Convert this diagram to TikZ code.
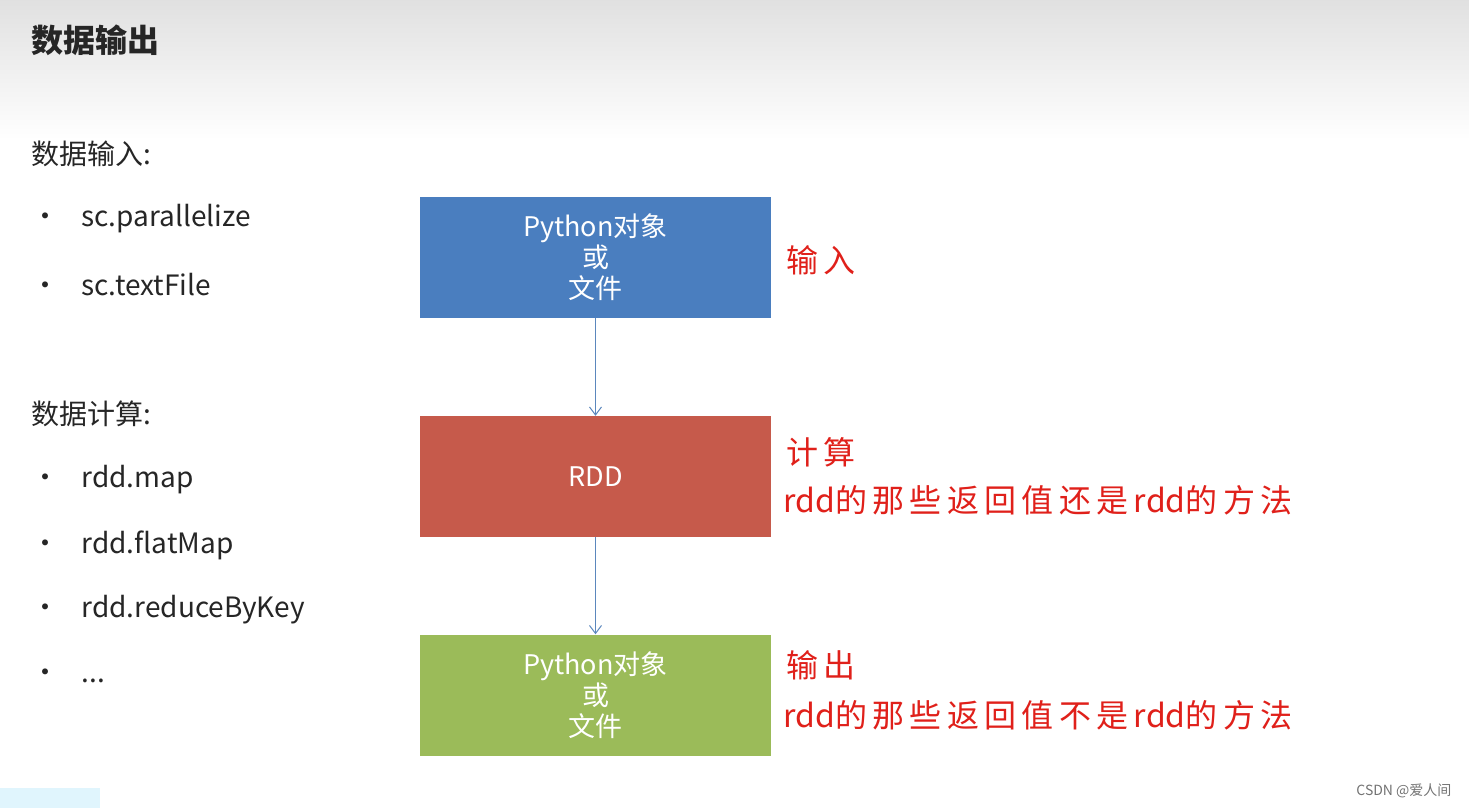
\documentclass[tikz,border=0pt]{standalone}
\usepackage{fontspec}
\setmainfont{Noto Sans CJK SC}
\usetikzlibrary{arrows.meta}
\definecolor{bbox}{HTML}{4A7EBF}
\definecolor{rbox}{HTML}{C65A4B}
\definecolor{gbox}{HTML}{9BBB59}
\definecolor{lbl}{HTML}{E0201A}
\definecolor{arr}{HTML}{5B87BD}
\begin{document}
\begin{tikzpicture}[x=1pt,y=-1pt,
  box/.style={minimum width=351pt,minimum height=121pt,inner sep=0pt,text=white,font=\fontsize{27}{31}\selectfont,align=center},
  body/.style={anchor=west,font=\fontsize{28}{32}\selectfont,text=black!85},
  red/.style={anchor=west,font=\fontsize{32}{36}\selectfont,text=lbl},
  con/.style={draw=arr,line width=1pt,-{Straight Barb[length=8pt,width=12pt]}}]
\useasboundingbox (0,0) rectangle (1469,808);
\fill[white] (0,0) rectangle (1469,808);
\shade[top color=black!12,bottom color=white] (0,0) rectangle (1469,140);
\fill[cyan!12] (0,788) rectangle (100,808);
\node[anchor=west,font=\bfseries\fontsize{32}{36}\selectfont,text=black!85] (title) at (28,40) {数据输出};
\node[body] (in) at (28,154) {数据输入:};
\node[body] (i1) at (28,219) {•\hspace{22pt}sc.parallelize};
\node[body] (i2) at (28,285) {•\hspace{22pt}sc.textFile};
\node[body] (cp) at (28,414) {数据计算:};
\node[body] (c1) at (28,480) {•\hspace{22pt}rdd.map};
\node[body] (c2) at (28,545) {•\hspace{22pt}rdd.flatMap};
\node[body] (c3) at (28,610) {•\hspace{22pt}rdd.reduceByKey};
\node[body] (c4) at (28,676) {•\hspace{22pt}...};
\node[box,fill=bbox] (b1) at (595.5,257.5) {Python对象\\或\\文件};
\node[box,fill=rbox] (b2) at (595.5,476.5) {RDD};
\node[box,fill=gbox] (b3) at (595.5,695) {Python对象\\或\\文件};
\draw[con] (b1.south) -- (b2.north);
\draw[con] (b2.south) -- (b3.north);
\node[red] (l1) at (783,260) {输\,入};
\node[red] (l2) at (783,452) {计\,算};
\node[red] (l3) at (780,500) {rdd的\,那\,些\,返\,回\,值\,还\,是\,rdd的\,方\,法};
\node[red] (l4) at (783,665) {输\,出};
\node[red] (l5) at (780,715) {rdd的\,那\,些\,返\,回\,值\,不\,是\,rdd的\,方\,法};
\node[anchor=east,font=\fontsize{14}{16}\selectfont,text=black!55] (wm) at (1455,791) {CSDN @爱人间};
\end{tikzpicture}
\end{document}
